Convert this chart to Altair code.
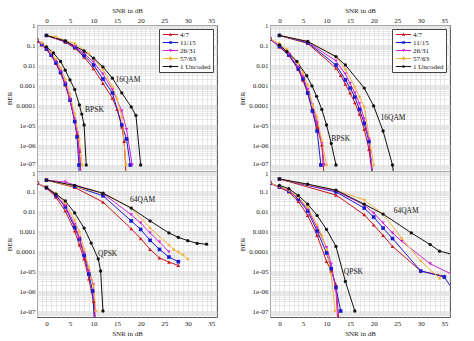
import altair as alt
import pandas as pd

CODES = ["4/7", "11/15", "26/31", "57/63", "1 Uncoded"]
COLORS = ["#c8141e", "#1a1ad2", "#d223d2", "#f2b13a", "#111111"]
SHAPES = ["triangle-up", "square", "triangle-down", "diamond", "circle"]
SIZES = [14, 11, 14, 28, 10]

# ---- top-left panel -------------------------------------------------------
TL_BPSK = {
    "4/7": ([-2, -1, 0, 1, 2, 3, 4, 5, 6, 6.5, 7, 7.5],
            [0.16, 0.1, 0.06, 0.03, 0.012, 0.004, 0.001, 0.00017, 1.6e-5, 3.5e-6, 5e-7, 1e-8]),
    "11/15": ([-2, -1, 0, 1, 2, 3, 4, 5, 6, 6.5, 6.9, 7.1],
              [0.17, 0.11, 0.065, 0.032, 0.013, 0.0043, 0.0011, 0.00018, 1.5e-5, 2.5e-6, 1e-7, 1e-9]),
    "26/31": ([-2, -1, 0, 1, 2, 3, 4, 5, 6, 6.5, 7, 7.3],
              [0.17, 0.11, 0.07, 0.036, 0.015, 0.005, 0.0013, 0.0002, 2e-5, 4e-6, 5e-7, 1e-8]),
    "57/63": ([-2, -1, 0, 1, 2, 3, 4, 5, 6, 7, 7.6],
              [0.18, 0.13, 0.085, 0.045, 0.02, 0.007, 0.0019, 0.00035, 3.5e-5, 2e-6, 1e-7]),
    "1 Uncoded": ([0, 1.5, 3, 4, 5, 6, 7, 7.5, 8, 8.45],
                  [0.08, 0.04, 0.015, 0.0055, 0.0018, 0.0006, 0.0001, 3.5e-5, 1e-5, 1e-7]),
}
TL_16QAM = {
    "4/7": ([0, 4, 6, 8, 10, 12, 14, 15, 16, 16.5, 17],
            [0.3, 0.14, 0.07, 0.025, 0.0065, 0.0012, 0.00022, 6e-5, 8e-6, 1.5e-6, 1e-8]),
    "11/15": ([0, 4, 6, 8, 10, 12, 14, 16, 17, 17.8],
              [0.3, 0.15, 0.08, 0.03, 0.01, 0.002, 0.0004, 1e-5, 2e-6, 1e-7]),
    "26/31": ([0, 4, 6, 8, 10, 12, 14, 16, 17, 18.2],
              [0.3, 0.15, 0.085, 0.038, 0.014, 0.0035, 0.0006, 5e-5, 6e-6, 1e-7]),
    "57/63": ([0, 2, 6, 9, 12, 14, 15, 16, 16.9],
              [0.3, 0.25, 0.12, 0.037, 0.006, 0.0008, 0.0002, 2.5e-5, 1e-7]),
    "1 Uncoded": ([0, 4, 8, 10, 12, 14, 16, 18, 19, 20],
                  [0.3, 0.16, 0.05, 0.022, 0.008, 0.0022, 0.0004, 8e-5, 3e-5, 1e-7]),
}
TL_LABELS = {"text": ["16QAM", "BPSK"], "snr": [17.3, 10.2], "ber": [0.0018, 5.9e-5]}

# ---- top-right panel ------------------------------------------------------
TR_BPSK = {
    "4/7": ([-2, 0, 2, 4, 5, 6, 7, 8, 9, 9.6],
            [0.2, 0.08, 0.03, 0.006, 0.0017, 0.0004, 6e-5, 8e-6, 1e-6, 1e-8]),
    "11/15": ([-2, 0, 2, 4, 5, 6, 7, 8, 8.8],
              [0.2, 0.085, 0.032, 0.0065, 0.002, 0.0004, 5e-5, 5e-6, 1e-7]),
    "26/31": ([-2, 0, 2, 4, 5, 6, 7, 8, 9, 9.5],
              [0.2, 0.09, 0.035, 0.008, 0.0025, 0.0006, 0.0001, 1.3e-5, 1.2e-6, 1e-7]),
    "57/63": ([-2, 0, 1.6, 4, 5, 6, 7, 8, 9, 10],
              [0.2, 0.12, 0.06, 0.012, 0.004, 0.001, 0.0001, 2.5e-5, 1.6e-6, 1e-7]),
    "1 Uncoded": ([0, 1.6, 3.7, 5.8, 6.9, 7.9, 9, 10, 11, 12],
                  [0.1, 0.047, 0.015, 0.0029, 0.0009, 0.00027, 6e-5, 1e-5, 1.2e-6, 1e-7]),
}
TR_16QAM = {
    "4/7": ([0, 6, 12, 13, 14, 15, 16, 17, 18, 19, 20],
            [0.3, 0.12, 0.007, 0.003, 0.0011, 0.0004, 0.00013, 3.5e-5, 6e-6, 6e-7, 1e-8]),
    "11/15": ([0, 6, 12, 14, 15, 16, 17, 18, 19, 20],
              [0.3, 0.13, 0.01, 0.0018, 0.0007, 0.00025, 6e-5, 1.2e-5, 1.5e-6, 1e-8]),
    "26/31": ([0, 6, 12, 14, 15, 16, 17, 18, 19, 20],
              [0.3, 0.14, 0.016, 0.0035, 0.0012, 0.0004, 0.00012, 2e-5, 2e-6, 1e-8]),
    "57/63": ([0, 6, 12, 14, 16, 17, 18, 20],
              [0.3, 0.15, 0.027, 0.006, 0.0008, 0.00025, 8e-5, 1e-7]),
    "1 Uncoded": ([0, 6, 12, 14, 18, 20, 22, 24, 24.5],
                  [0.3, 0.15, 0.026, 0.01, 0.0007, 9e-5, 5e-6, 1e-7, 1e-8]),
}
TR_LABELS = {"text": ["BPSK", "16QAM"], "snr": [13.0, 24.1], "ber": [1.9e-6, 2.3e-5]}

# ---- bottom-left panel ----------------------------------------------------
BL_QPSK = {
    "4/7": ([-2, 0, 2, 4, 6, 7, 8, 9, 10, 10.5],
            [0.25, 0.14, 0.05, 0.01, 0.001, 0.0002, 4e-5, 4e-6, 3e-7, 1e-8]),
    "11/15": ([-2, 0, 2, 4, 6, 7, 8, 9, 9.8, 10.3],
              [0.25, 0.15, 0.06, 0.016, 0.0015, 0.0004, 6e-5, 7e-6, 1e-6, 1e-8]),
    "26/31": ([-2, 0, 2, 4, 6, 7, 8, 9, 10, 10.5],
              [0.25, 0.15, 0.065, 0.018, 0.0021, 0.00045, 8e-5, 1e-5, 2e-6, 1e-8]),
    "57/63": ([-2, 0, 2, 4, 6, 7, 8, 9, 10, 10.5],
              [0.25, 0.16, 0.075, 0.025, 0.0035, 0.0009, 0.00012, 1.5e-5, 2e-6, 1e-7]),
    "1 Uncoded": ([0, 2, 4, 6, 8, 9.5, 11, 11.5, 12],
                  [0.15, 0.07, 0.032, 0.008, 0.0014, 0.00025, 4e-5, 1e-5, 1e-7]),
}
BL_64QAM = {
    "4/7": ([0, 6, 12, 18, 20, 22, 24, 26, 28],
            [0.35, 0.15, 0.028, 0.0013, 0.00042, 0.00012, 4.5e-5, 2.8e-5, 1.9e-5]),
    "11/15": ([0, 6, 12, 18, 20, 22, 24, 26, 28],
              [0.35, 0.17, 0.058, 0.0032, 0.0012, 0.00034, 0.00012, 5e-5, 2.9e-5]),
    "26/31": ([0, 4, 12, 18, 20, 22, 24, 26],
              [0.35, 0.28, 0.075, 0.0065, 0.0025, 0.0008, 0.00028, 9e-5]),
    "57/63": ([0, 12, 18, 22, 26, 27, 28, 29, 30],
              [0.35, 0.078, 0.014, 0.0014, 0.0002, 0.00012, 9e-5, 6.5e-5, 4e-5]),
    "1 Uncoded": ([0, 6, 12, 18, 22, 26, 28, 30, 32, 34],
                  [0.35, 0.19, 0.078, 0.014, 0.0032, 0.0008, 0.00048, 0.00033, 0.00024, 0.00022]),
}
BL_LABELS = {"text": ["64QAM", "QPSK"], "snr": [20.4, 13.0], "ber": [0.036, 7e-5]}

# ---- bottom-right panel ---------------------------------------------------
BR_QPSK = {
    "4/7": ([-2, 0, 2, 4, 6, 8, 10, 11, 12, 12.8],
            [0.25, 0.15, 0.09, 0.03, 0.006, 0.0006, 3e-5, 1e-5, 2e-6, 1e-8]),
    "11/15": ([-2, 0, 2, 4, 6, 8, 10, 11, 12, 13],
              [0.25, 0.16, 0.1, 0.04, 0.01, 0.001, 8e-5, 1.3e-5, 1.5e-6, 1e-7]),
    "26/31": ([-2, 0, 2, 4, 6, 8, 10, 11, 12, 12.5],
              [0.25, 0.16, 0.1, 0.045, 0.012, 0.0015, 0.00015, 2.2e-5, 1e-6, 1e-8]),
    "57/63": ([-2, 0, 2, 4, 6, 8, 9, 10, 11, 11.8],
              [0.25, 0.17, 0.11, 0.05, 0.015, 0.002, 0.0006, 0.00012, 7e-6, 1e-7]),
    "1 Uncoded": ([0, 2, 4, 6, 8, 10, 12, 14, 16],
                  [0.19, 0.13, 0.06, 0.022, 0.006, 0.0012, 0.00017, 3e-6, 1e-7]),
}
BR_64QAM = {
    "4/7": ([0, 12, 18, 20, 22, 24, 30, 35],
            [0.4, 0.063, 0.0065, 0.002, 0.0006, 0.00017, 1e-5, 5.5e-6]),
    "11/15": ([0, 12, 18, 20, 22, 24, 30, 35, 37],
              [0.4, 0.09, 0.014, 0.005, 0.0014, 0.00042, 1e-5, 5e-6, 1e-6]),
    "26/31": ([0, 12, 18, 20, 22, 24, 26, 32, 36.5],
              [0.4, 0.1, 0.02, 0.008, 0.0025, 0.0008, 0.0003, 2.3e-5, 7e-6]),
    "57/63": ([0, 12, 18, 22, 26, 30, 34],
              [0.4, 0.11, 0.036, 0.007, 0.00042, 3.2e-5, 4.3e-6]),
    "1 Uncoded": ([0, 6, 12, 18, 22, 28, 32, 34, 36.5],
                  [0.4, 0.22, 0.11, 0.022, 0.007, 0.0008, 0.00021, 9.8e-5, 7e-5]),
}
BR_LABELS = {"text": ["64QAM", "QPSK"], "snr": [26.9, 15.7], "ber": [0.0095, 9e-6]}

X_TICKS = list(range(-2, 37))
Y_TICKS = [k * 10.0 ** e for e in range(-8, 1) for k in range(1, 10)
           if 5e-8 <= k * 10.0 ** e <= 1.0]
X_DOMAIN = [-2.0, 36.2]
Y_DOMAIN = [10 ** -7.3, 1.0]

FONT = "Liberation Serif"

# legend symbols: a short line with the marker in its middle
BAR = "M-2.8,-0.17L2.8,-0.17L2.8,0.17L-2.8,0.17Z"
LEGEND_PATHS = [
    BAR + "M0,-0.6L0.6,0.45L-0.6,0.45Z",
    BAR + "M-0.5,-0.5L0.5,-0.5L0.5,0.5L-0.5,0.5Z",
    BAR + "M0,0.6L-0.6,-0.45L0.6,-0.45Z",
    BAR + "M0,-0.8L0.8,0L0,0.8L-0.8,0Z",
    BAR + "M-0.5,0A0.5,0.5,0,1,1,0.5,0A0.5,0.5,0,1,1,-0.5,0Z",
]

Y_LABEL_EXPR = (
    "abs(log(datum.value)/LN10 - round(log(datum.value)/LN10)) < 0.01 ? "
    "['1','0.1','0.01','0.001','0.0001','1e-05','1e-06','1e-07','1e-08']"
    "[-round(log(datum.value)/LN10)] : ''"
)


def to_frame(groups):
    rows = []
    for gname, series in groups.items():
        for code, (xs, ys) in series.items():
            for xv, yv in zip(xs, ys):
                rows.append({"snr": xv, "ber": yv, "code": code, "grp": gname})
    return pd.DataFrame(rows)


def panel(groups, labels, top):
    df = to_frame(groups)
    xax = alt.Axis(orient="top" if top else "bottom", title="SNR in dB",
                   values=X_TICKS, labelExpr="datum.value % 5 === 0 ? datum.label : ''",
                   labelFlush=False, labelOverlap=False)
    if top:
        loff = {"condition": {"test": "datum.value < 1.5e-7", "value": -1.5}, "value": 0}
    else:
        loff = {"condition": {"test": "datum.value > 0.99", "value": 2}, "value": 0}
    yax = alt.Axis(title="BER", values=Y_TICKS, labelExpr=Y_LABEL_EXPR,
                   labelFlush=False, labelOverlap=False, labelOffset=loff)
    x = alt.X("snr:Q", scale=alt.Scale(domain=X_DOMAIN, nice=False, zero=False), axis=xax)
    y = alt.Y("ber:Q", scale=alt.Scale(type="log", domain=Y_DOMAIN, nice=False), axis=yax)
    color = alt.Color("code:N", scale=alt.Scale(domain=CODES, range=COLORS), legend=None)
    base = alt.Chart(df)
    lines = base.mark_line(strokeWidth=1, clip=True).encode(
        x=x, y=y, color=color, detail="grp:N")
    pts = base.mark_point(filled=True, opacity=1, clip=True).encode(
        x=x, y=y, color=color,
        shape=alt.Shape("code:N", scale=alt.Scale(domain=CODES, range=SHAPES), legend=None),
        size=alt.Size("code:N", scale=alt.Scale(domain=CODES, range=SIZES), legend=None),
    )
    txt = alt.Chart(pd.DataFrame(labels)).mark_text(
        font=FONT, fontSize=7.5, color="#111").encode(x=x, y=y, text="text:N")
    layers = [lines, pts, txt]
    if top:
        ldf = pd.DataFrame({"snr": [0.0] * 5, "ber": [0.5] * 5, "code_l": CODES})
        lg = alt.Legend(title=None, orient="top-right", offset=4, padding=2,
                        fillColor="white", strokeColor="#444", symbolSize=30,
                        symbolStrokeWidth=0, symbolOpacity=1, labelOffset=6,
                        symbolOffset=6, rowPadding=0, labelFont=FONT,
                        labelFontSize=7, labelColor="#111")
        leg = alt.Chart(ldf).mark_point(filled=True, opacity=0).encode(
            x=x, y=y,
            color=alt.Color("code_l:N", scale=alt.Scale(domain=CODES, range=COLORS), legend=lg),
            shape=alt.Shape("code_l:N", scale=alt.Scale(domain=CODES, range=LEGEND_PATHS), legend=lg),
        )
        layers.append(leg)
    return alt.layer(*layers).resolve_scale(
        color="independent", shape="independent", size="independent"
    ).properties(width=180, height=146)


tl = panel({"bpsk": TL_BPSK, "qam": TL_16QAM}, TL_LABELS, True)
bl = panel({"qpsk": BL_QPSK, "qam": BL_64QAM}, BL_LABELS, False)
tr = panel({"bpsk": TR_BPSK, "qam": TR_16QAM}, TR_LABELS, True)
br = panel({"qpsk": BR_QPSK, "qam": BR_64QAM}, BR_LABELS, False)

left = alt.vconcat(tl, bl, spacing=0, bounds="flush").resolve_scale(
    color="independent", shape="independent", size="independent")
right = alt.vconcat(tr, br, spacing=0, bounds="flush").resolve_scale(
    color="independent", shape="independent", size="independent")

chart = alt.hconcat(left, right, spacing=20).resolve_scale(
    color="independent", shape="independent", size="independent"
).properties(
    padding={"left": 5, "top": 5, "right": 5, "bottom": 2}
).configure_view(
    stroke="#555", strokeWidth=1
).configure_axis(
    labelFont=FONT, titleFont=FONT, labelFontSize=7, titleFontSize=7,
    titleFontWeight="normal", labelColor="#222", titleColor="#222",
    gridColor="#d9d9d9", gridWidth=0.6, domain=False, ticks=False,
    labelPadding=2, titlePadding=3
)

chart.save("out.html", embed_options={"renderer": "svg", "actions": False})
